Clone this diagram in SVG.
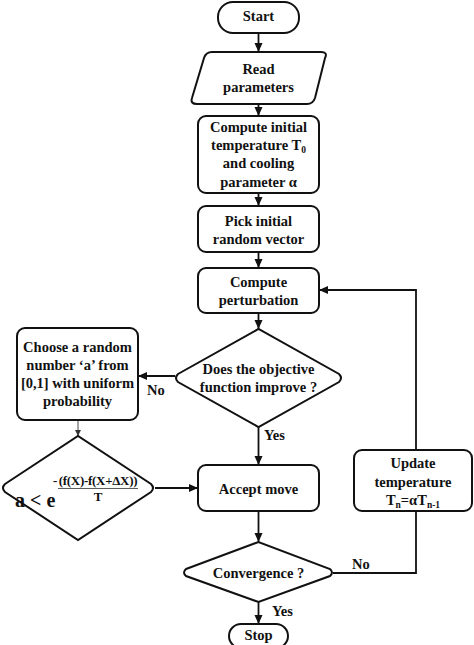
<svg xmlns="http://www.w3.org/2000/svg" width="474" height="645" viewBox="0 0 474 645">
<style>
.s{fill:#fff;stroke:#111;stroke-width:2}
.t{font-family:"Liberation Serif","Times New Roman",serif;font-weight:bold;font-size:14.5px;fill:#111;text-anchor:middle}
.l{fill:none;stroke:#111;stroke-width:1.8}
.thin{fill:none;stroke:#333;stroke-width:0.9}
.sub{font-size:9.5px}
</style>
<defs>
<marker id="ah" markerUnits="userSpaceOnUse" markerWidth="10" markerHeight="10" refX="9" refY="4" orient="auto">
<path d="M0,0 L9,4 L0,8 Z" fill="#111"/>
</marker>
<marker id="ahs" markerUnits="userSpaceOnUse" markerWidth="8" markerHeight="8" refX="6" refY="3" orient="auto">
<path d="M0,0 L6,3 L0,6 Z" fill="#333"/>
</marker>
</defs>
<rect width="474" height="645" fill="#fff"/>
<g id="connectors">
<line class="l" x1="258.5" y1="33" x2="258.5" y2="52" marker-end="url(#ah)"/>
<line class="l" x1="258.5" y1="104" x2="258.5" y2="116" marker-end="url(#ah)"/>
<line class="l" x1="258.5" y1="193" x2="258.5" y2="206" marker-end="url(#ah)"/>
<line class="l" x1="258.5" y1="252" x2="258.5" y2="268" marker-end="url(#ah)"/>
<line class="l" x1="258.5" y1="313" x2="258.5" y2="329" marker-end="url(#ah)"/>
<line class="l" x1="258.5" y1="427" x2="258.5" y2="465" marker-end="url(#ah)"/>
<line class="l" x1="175" y1="376" x2="138" y2="376" marker-end="url(#ah)"/>
<line class="thin" x1="78" y1="420" x2="78" y2="436" marker-end="url(#ahs)"/>
<line class="l" x1="155" y1="488" x2="198" y2="488" marker-end="url(#ah)"/>
<line class="l" x1="258.5" y1="511" x2="258.5" y2="542" marker-end="url(#ah)"/>
<line class="l" x1="258.5" y1="602" x2="258.5" y2="624" marker-end="url(#ah)"/>
<polyline class="l" points="333,573 416,573 416,511"/>
<polyline class="l" points="416,450 416,290 319,290" marker-end="url(#ah)"/>
<text class="t" x="264" y="440" style="text-anchor:start">Yes</text>
<text class="t" x="147" y="395" style="text-anchor:start">No</text>
<text class="t" x="352" y="569" style="text-anchor:start">No</text>
<text class="t" x="272" y="616" style="text-anchor:start">Yes</text>
</g>
<g id="start">
<rect class="s" x="218" y="2" width="81" height="31" rx="15"/>
<text class="t" x="258.5" y="21">Start</text>
</g>
<g id="read">
<path class="s" d="M212,52 L321,52 Q328,52 325,58 L315,98 Q313,104 307,104 L197,104 Q190,104 192,98 L204,58 Q206,52 212,52 Z"/>
<text class="t" x="258.5" y="74">Read</text>
<text class="t" x="258.5" y="92">parameters</text>
</g>
<g id="init">
<rect class="s" x="198" y="116" width="121" height="77" rx="8"/>
<text class="t" x="258.5" y="132">Compute initial</text>
<text class="t" x="258.5" y="150">temperature T<tspan class="sub" dy="3">0</tspan></text>
<text class="t" x="258.5" y="168">and cooling</text>
<text class="t" x="258.5" y="187">parameter α</text>
</g>
<g id="pick">
<rect class="s" x="198" y="206" width="121" height="46" rx="8"/>
<text class="t" x="258.5" y="226">Pick initial</text>
<text class="t" x="258.5" y="244">random vector</text>
</g>
<g id="perturb">
<rect class="s" x="198" y="268" width="121" height="45" rx="8"/>
<text class="t" x="258.5" y="287">Compute</text>
<text class="t" x="258.5" y="305">perturbation</text>
</g>
<g id="improve">
<path class="s" d="M178,374 L258.5,329 L339,374 Q343,378 339,382 L258.5,427 L178,382 Q174,378 178,374 Z"/>
<text class="t" x="258.5" y="374">Does the objective</text>
<text class="t" x="258.5" y="392">function improve ?</text>
</g>
<g id="choose">
<rect class="s" x="17" y="328" width="121" height="92" rx="8"/>
<text class="t" x="77.5" y="352">Choose a random</text>
<text class="t" x="77.5" y="370">number ‘a’ from</text>
<text class="t" x="77.5" y="388">[0,1] with uniform</text>
<text class="t" x="77.5" y="406">probability</text>
</g>
<g id="metropolis">
<path class="s" d="M5,484 L78,436 L151,484 Q155,488 151,492 L78,540 L5,492 Q1,488 5,484 Z"/>
<text class="t" x="15" y="507" style="text-anchor:start;font-size:20px">a &lt; e</text>
<text class="t" x="53" y="485" style="text-anchor:start;font-size:13px">-</text>
<text class="t" x="98" y="485" style="font-size:13px;letter-spacing:-0.3px">(f(X)-f(X+ΔX))</text>
<line x1="58" y1="488.5" x2="138" y2="488.5" stroke="#333" stroke-width="0.8"/>
<text class="t" x="98" y="501" style="font-size:13px">T</text>
</g>
<g id="accept">
<rect class="s" x="198" y="465" width="121" height="46" rx="8"/>
<text class="t" x="258.5" y="494">Accept move</text>
</g>
<g id="update">
<rect class="s" x="354" y="450" width="118" height="61" rx="8"/>
<text class="t" x="413" y="468">Update</text>
<text class="t" x="413" y="487">temperature</text>
<text class="t" x="413" y="505">T<tspan class="sub" dy="3">n</tspan><tspan dy="-3">=αT</tspan><tspan class="sub" dy="3">n-1</tspan></text>
</g>
<g id="convergence">
<path class="s" d="M186,569 L258.5,542 L330,569 Q334,572.5 330,576 L258.5,602 L186,576 Q182,572.5 186,569 Z"/>
<text class="t" x="258.5" y="578">Convergence ?</text>
</g>
<g id="stop">
<rect class="s" x="229" y="624" width="59" height="24" rx="12"/>
<text class="t" x="258.5" y="640">Stop</text>
</g>
</svg>
